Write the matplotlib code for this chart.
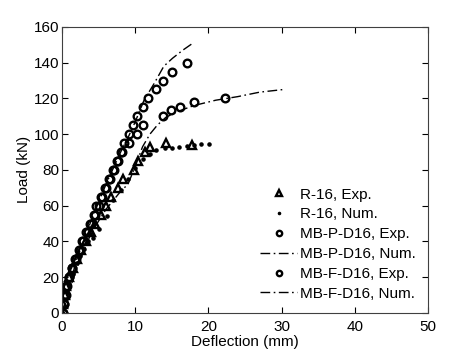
import numpy as np
import matplotlib
matplotlib.use('Agg')
import matplotlib.pyplot as plt

plt.rcParams['font.family'] = ['Liberation Sans', 'DejaVu Sans']

# R-16 experimental (triangles)
r16_exp_x = [0, 0.15, 0.35, 0.6, 1.0, 1.5, 2.0, 2.6, 3.3, 4.0, 4.5, 5.3, 6.0, 6.7, 7.6, 8.3, 9.8, 10.4, 11.3, 12.0, 14.2, 17.7]
r16_exp_y = [0, 5, 10, 15, 20, 25, 30, 35, 40, 45, 50, 55, 60, 65, 70, 75, 80, 85, 90, 93, 95, 94]
# R-16 numerical (dots)
r16_num_x = [0, 0.5, 1, 1.5, 2, 2.5, 3, 3.5, 4.2, 5, 6.2, 6.9, 8, 9, 10, 11, 12, 12.8, 14, 15, 16, 17, 18, 19, 20.1]
r16_num_y = [0, 8, 16, 22, 28, 32, 36, 40, 42, 47, 54, 63, 69, 75, 81, 86, 89, 91, 92, 92.5, 93, 93.5, 94, 94.3, 94.5]
# MB-P-D16
mbp_exp_x = [0.1, 0.3, 0.5, 0.7, 1.0, 1.4, 1.9, 2.5, 2.9, 3.5, 4.0, 4.5, 5.0, 5.5, 6.0, 6.6, 7.1, 7.7, 8.2, 9.2, 10.2, 11.1, 13.8, 14.85, 16.1, 18.0, 22.2]
mbp_exp_y = [0, 5, 10, 15, 20, 25, 30, 35, 40, 45, 50, 55, 60, 65, 70, 75, 80, 85, 90, 95, 100, 105, 110, 113.5, 115, 118, 120]
mbp_num_x = [0, 2, 4, 6, 8, 9, 10, 11, 12, 13, 14.2, 16, 18, 21, 24, 27, 30.3]
mbp_num_y = [0, 25, 45, 58, 68, 72, 82, 93, 100, 105, 109.5, 113, 116, 119, 121, 123.5, 125]
# MB-F-D16
mbf_exp_x = [0.1, 0.2, 0.4, 0.55, 0.9, 1.3, 1.8, 2.3, 2.7, 3.3, 3.8, 4.3, 4.7, 5.3, 5.8, 6.4, 6.9, 7.5, 8.0, 8.5, 9.1, 9.7, 10.3, 11.1, 11.7, 12.8, 13.8, 15.0, 17.1]
mbf_exp_y = list(range(0, 145, 5))
mbf_num_x = [0, 2, 4, 6, 8, 9, 10, 11.2, 12.6, 13.9, 15.1, 16.5, 17.9]
mbf_num_y = [0, 30, 52, 72, 90, 98, 107, 119, 128.5, 138, 142.5, 147, 151]

fig = plt.figure(figsize=(4.74, 3.54), dpi=100)
ax = fig.add_axes([0.131, 0.116, 0.772, 0.808])
dd = (0, (7, 2.5, 1.2, 2.5))
ax.plot(r16_exp_x, r16_exp_y, '^', mfc='none', mec='k', ms=5.5, mew=1.7, ls='none', label='R-16, Exp.')
ax.plot(r16_num_x, r16_num_y, '.', c='k', ms=4.5, ls='none', label='R-16, Num.')
ax.plot(mbp_exp_x, mbp_exp_y, 'o', mfc='none', mec='k', ms=5.5, mew=1.7, ls='none', label='MB-P-D16, Exp.')
ax.plot(mbp_num_x, mbp_num_y, c='k', lw=1, ls=dd, label='MB-P-D16, Num.')
ax.plot(mbf_exp_x, mbf_exp_y, 'o', mfc='none', mec='k', ms=5.5, mew=1.7, ls='none', label='MB-F-D16, Exp.')
ax.plot(mbf_num_x, mbf_num_y, c='k', lw=1, ls=dd, label='MB-F-D16, Num.')

ax.set_xlim(0, 50); ax.set_ylim(0, 160)
ax.set_xticks(np.arange(0, 51, 10)); ax.set_yticks(np.arange(0, 161, 20))
ax.tick_params(direction='in', top=True, right=True, length=4, labelsize=11)
ax.tick_params(axis='x', pad=5); ax.tick_params(axis='y', pad=2)
for s in ax.spines.values():
    s.set_linewidth(0.8); s.set_color('0.25')
ax.set_xlabel('Deflection (mm)', fontsize=11, labelpad=1)
ax.set_ylabel('Load (kN)', fontsize=11, labelpad=2)
ax.legend(loc='lower right', bbox_to_anchor=(1.0, 0.0), frameon=False, fontsize=11, markerscale=0.7,
          handlelength=2.4, handletextpad=0.2, labelspacing=0.38, borderaxespad=0.4)
fig.savefig('out.png', dpi=100)
